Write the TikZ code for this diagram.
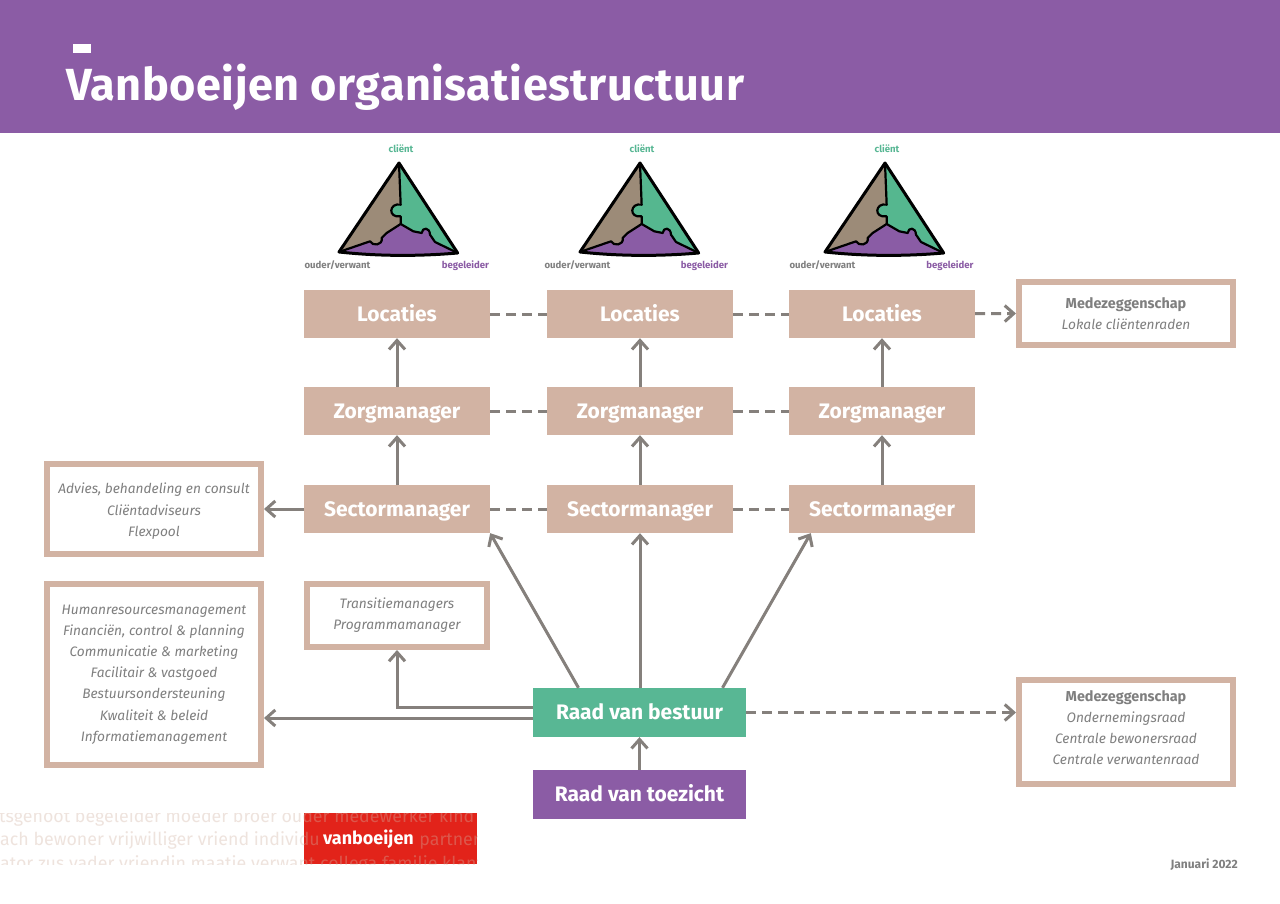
\documentclass[tikz,border=0pt]{standalone}
\usepackage{fontspec}
\setmainfont{Fira Sans}
\usetikzlibrary{arrows.meta, calc}
\definecolor{tan}{HTML}{D2B3A3}
\definecolor{headpurple}{HTML}{8B5CA5}
\definecolor{boardgreen}{HTML}{58B794}
\definecolor{linegrey}{HTML}{85807C}
\definecolor{textgrey}{HTML}{7F7F7F}
\definecolor{logored}{HTML}{E2231A}
\definecolor{pieceBrown}{HTML}{9C8B78}
\definecolor{pieceGreen}{HTML}{55B78F}
\definecolor{piecePurple}{HTML}{8A5CA5}
\tikzstyle{line} = [draw=linegrey, line width=3pt, -{Straight Barb[length=9pt,width=16pt]}]
\tikzstyle{dashline} = [draw=linegrey, line width=3pt, dash pattern=on 10pt off 6pt]
\tikzstyle{dasharrow} = [dashline, -{Straight Barb[length=9pt,width=16pt]}]
\tikzstyle{box} = [rectangle, fill=tan, text=white, minimum width=186pt, minimum height=48pt, inner sep=0pt, text height=16pt, text depth=2pt, text centered, font=\fontsize{21}{24}\selectfont\bfseries]
\tikzstyle{board} = [box, minimum width=213pt, minimum height=49pt, fill=headpurple]
\tikzstyle{frame} = [rectangle, draw=tan, line width=6pt, fill=white, text=textgrey, inner sep=0pt, align=center, font=\fontsize{13.7}{21.2}\selectfont\itshape]
\tikzstyle{mini} = [inner sep=0pt, anchor=base, font=\fontsize{9.6}{10}\selectfont\bfseries]
\tikzstyle{crowd} = [inner sep=0pt, text=tan, opacity=0.36, font=\fontsize{17.8}{24}\selectfont]
\newcommand{\greenrim}{(0,0) -- (5,125) .. controls (-30,118) and (-35,166) .. (5,160) -- (5,183)}
\newcommand{\purplerim}{(-180,267) -- (-87,235) .. controls (-80,250) and (-48,248) .. (-52,225) -- (-37,210) -- (5,183) -- (43,205) -- (68,210) .. controls (70,192) and (92,192) .. (93,215) -- (108,237) -- (176,270)}
\newcommand{\medezeg}{{\upshape\bfseries\fontsize{14.4}{21.2}\selectfont Medezeggenschap}}
\begin{document}
\begin{tikzpicture}[x=1pt, y=-1pt]
	\useasboundingbox (0,0) rectangle (1280,904);
	\fill [white] (0,0) rectangle (1280,904);
	
	\node [rectangle, fill=headpurple, minimum width=1280pt, minimum height=133pt, inner sep=0pt, anchor=north west] (banner) at (0,0) {};
	\node [rectangle, fill=white, minimum width=18pt, minimum height=9pt, inner sep=0pt, anchor=north west] (dash) at (73,44) {};
	\node [anchor=base west, inner sep=0pt, text=white, font=\fontsize{45}{50}\selectfont\bfseries\addfontfeatures{LetterSpace=1.2}] (title) at (66,101) {Vanboeijen organisatiestructuur};
	
	% the three triangles
	\foreach \cx/\ox/\bx/\tn in {399/337.5/465.5/a, 640/577.5/704.5/b, 885/822.5/950/c} {
		\begin{scope}[shift={(\cx,163)}, x=0.3333pt, y=-0.3333pt]
			\fill [pieceBrown] (0,0) -- (-180,267) -- (-87,235) .. controls (-80,250) and (-48,248) .. (-52,225) -- (-37,210) -- (5,183) -- (5,160) .. controls (-35,166) and (-30,118) .. (5,125) -- cycle;
			\fill [pieceGreen] \greenrim -- (43,205) -- (68,210) .. controls (70,192) and (92,192) .. (93,215) -- (108,237) -- (176,270) -- cycle;
			\fill [piecePurple] \purplerim .. controls (60,280) and (-60,280) .. (-180,267) -- cycle;
			\draw [black, line width=2.2pt, line join=round] \greenrim;
			\draw [black, line width=2.2pt, line join=round] \purplerim;
			\draw [black, line width=3pt, line join=round] (-180,267) -- (0,0) -- (176,270) .. controls (60,280) and (-60,280) .. (-180,267) -- cycle;
		\end{scope}
		\node [mini, text=boardgreen] (client\tn) at (\cx+2,153) {cliënt};
		\node [mini, text=textgrey] (ouder\tn) at (\ox,269) {ouder/verwant};
		\node [mini, text=headpurple] (begeleider\tn) at (\bx,269) {begeleider};
	}
	
	\node [box] (sector1) at (397,509) {Sectormanager};
	\node [box, above of = sector1, node distance = 98pt] (zorg1) {Zorgmanager};
	\node [box, above of = zorg1, node distance = 97pt] (loc1) {Locaties};
	\node [box, right of = sector1, node distance = 243pt] (sector2) {Sectormanager};
	\node [box, above of = sector2, node distance = 98pt] (zorg2) {Zorgmanager};
	\node [box, above of = zorg2, node distance = 97pt] (loc2) {Locaties};
	\node [box, right of = sector2, node distance = 242pt] (sector3) {Sectormanager};
	\node [box, above of = sector3, node distance = 98pt] (zorg3) {Zorgmanager};
	\node [box, above of = zorg3, node distance = 97pt] (loc3) {Locaties};
	
	\node [board, fill=boardgreen] (bestuur) at (639.5,712.5) {Raad van bestuur};
	\node [board, below of = bestuur, node distance = 82pt] (toezicht) {Raad van toezicht};
	
	\node [frame, minimum width=214pt, minimum height=90pt] (advies) at (154,509) {\rule{0pt}{15pt}Advies, behandeling en consult\\Cliëntadviseurs\\Flexpool};
	\node [frame, minimum width=214pt, minimum height=181pt] (staf) at (154,674.5) {Humanresourcesmanagement\\Financiën, control \& planning\\Communicatie \& marketing\\Facilitair \& vastgoed\\Bestuursondersteuning\\Kwaliteit \& beleid\\Informatiemanagement};
	\node [frame, minimum width=180pt, minimum height=63pt] (transitie) at (397,615.5) {Transitiemanagers\\Programmamanager};
	\node [frame, minimum width=214pt, minimum height=63pt] (inspraak1) at (1126,313.5) {\medezeg\\Lokale cliëntenraden};
	\node [frame, minimum width=214pt, minimum height=104pt] (inspraak2) at (1126,732) {\medezeg\\Ondernemingsraad\\Centrale bewonersraad\\Centrale verwantenraad\rule[-9pt]{0pt}{9pt}};
	
	\path [line] (sector1) -- (zorg1);
	\path [line] (zorg1) -- (loc1);
	\path [line] (sector2) -- (zorg2);
	\path [line] (zorg2) -- (loc2);
	\path [line] (sector3) -- (zorg3);
	\path [line] (zorg3) -- (loc3);
	\path [line] (sector1.west) -- (advies.east);
	
	\path [dashline] (loc1) -- (loc2);
	\path [dashline] (loc2) -- (loc3);
	\path [dashline] (zorg1) -- (zorg2);
	\path [dashline] (zorg2) -- (zorg3);
	\path [dashline] (sector1) -- (sector2);
	\path [dashline] (sector2) -- (sector3);
	\path [dasharrow] (loc3) -- (inspraak1.west);
	\path [dasharrow] (bestuur) -- (inspraak2.west |- bestuur);
	
	\coordinate (outleft) at ($(bestuur.north)+(-61,0)$);
	\coordinate (outright) at ($(bestuur.north)+(83,0)$);
	\coordinate (outtrans) at ($(bestuur.west)+(0,-5.5)$);
	\coordinate (outstaf) at ($(bestuur.west)+(0,5.5)$);
	\path [line] (outleft) -- (sector1.south east);
	\path [line] (bestuur.north -| sector2.south) -- (sector2.south);
	\path [line] (outright) -- ($(sector3.south west)+(22,0)$);
	\path [line] (outtrans) -- (outtrans -| transitie.south) -- (transitie.south);
	\path [line] (outstaf) -- (outstaf -| staf.east);
	\path [line] (toezicht.north) -- (bestuur.south);
	
	% logo strip
	\begin{scope}
		\clip (0,813) rectangle (477,864);
		\node [rectangle, fill=logored, minimum width=173pt, minimum height=51pt, inner sep=0pt, anchor=north west] (logo) at (304,813) {};
		\node [crowd, anchor=base west] (row1) at (-1,822) {tsgenoot begeleider moeder broer ouder medewerker kind};
		\node [crowd, anchor=base west] (row2) at (0,845) {ach bewoner vrijwilliger vriend individu};
		\node [crowd, anchor=base east] (row2b) at (480,845) {partner};
		\node [crowd, anchor=base west] (row3) at (0,869) {ator zus vader vriendin maatje verwant collega familie klant};
	\end{scope}
	\node [inner sep=0pt, text=white, font=\fontsize{18}{20}\selectfont\bfseries] (vanboeijen) at (368.5,839) {vanboeijen};
	\node [inner sep=0pt, anchor=east, text=textgrey, font=\fontsize{12}{14}\selectfont\bfseries] (datum) at (1238,865) {Januari 2022};
\end{tikzpicture}
\end{document}
